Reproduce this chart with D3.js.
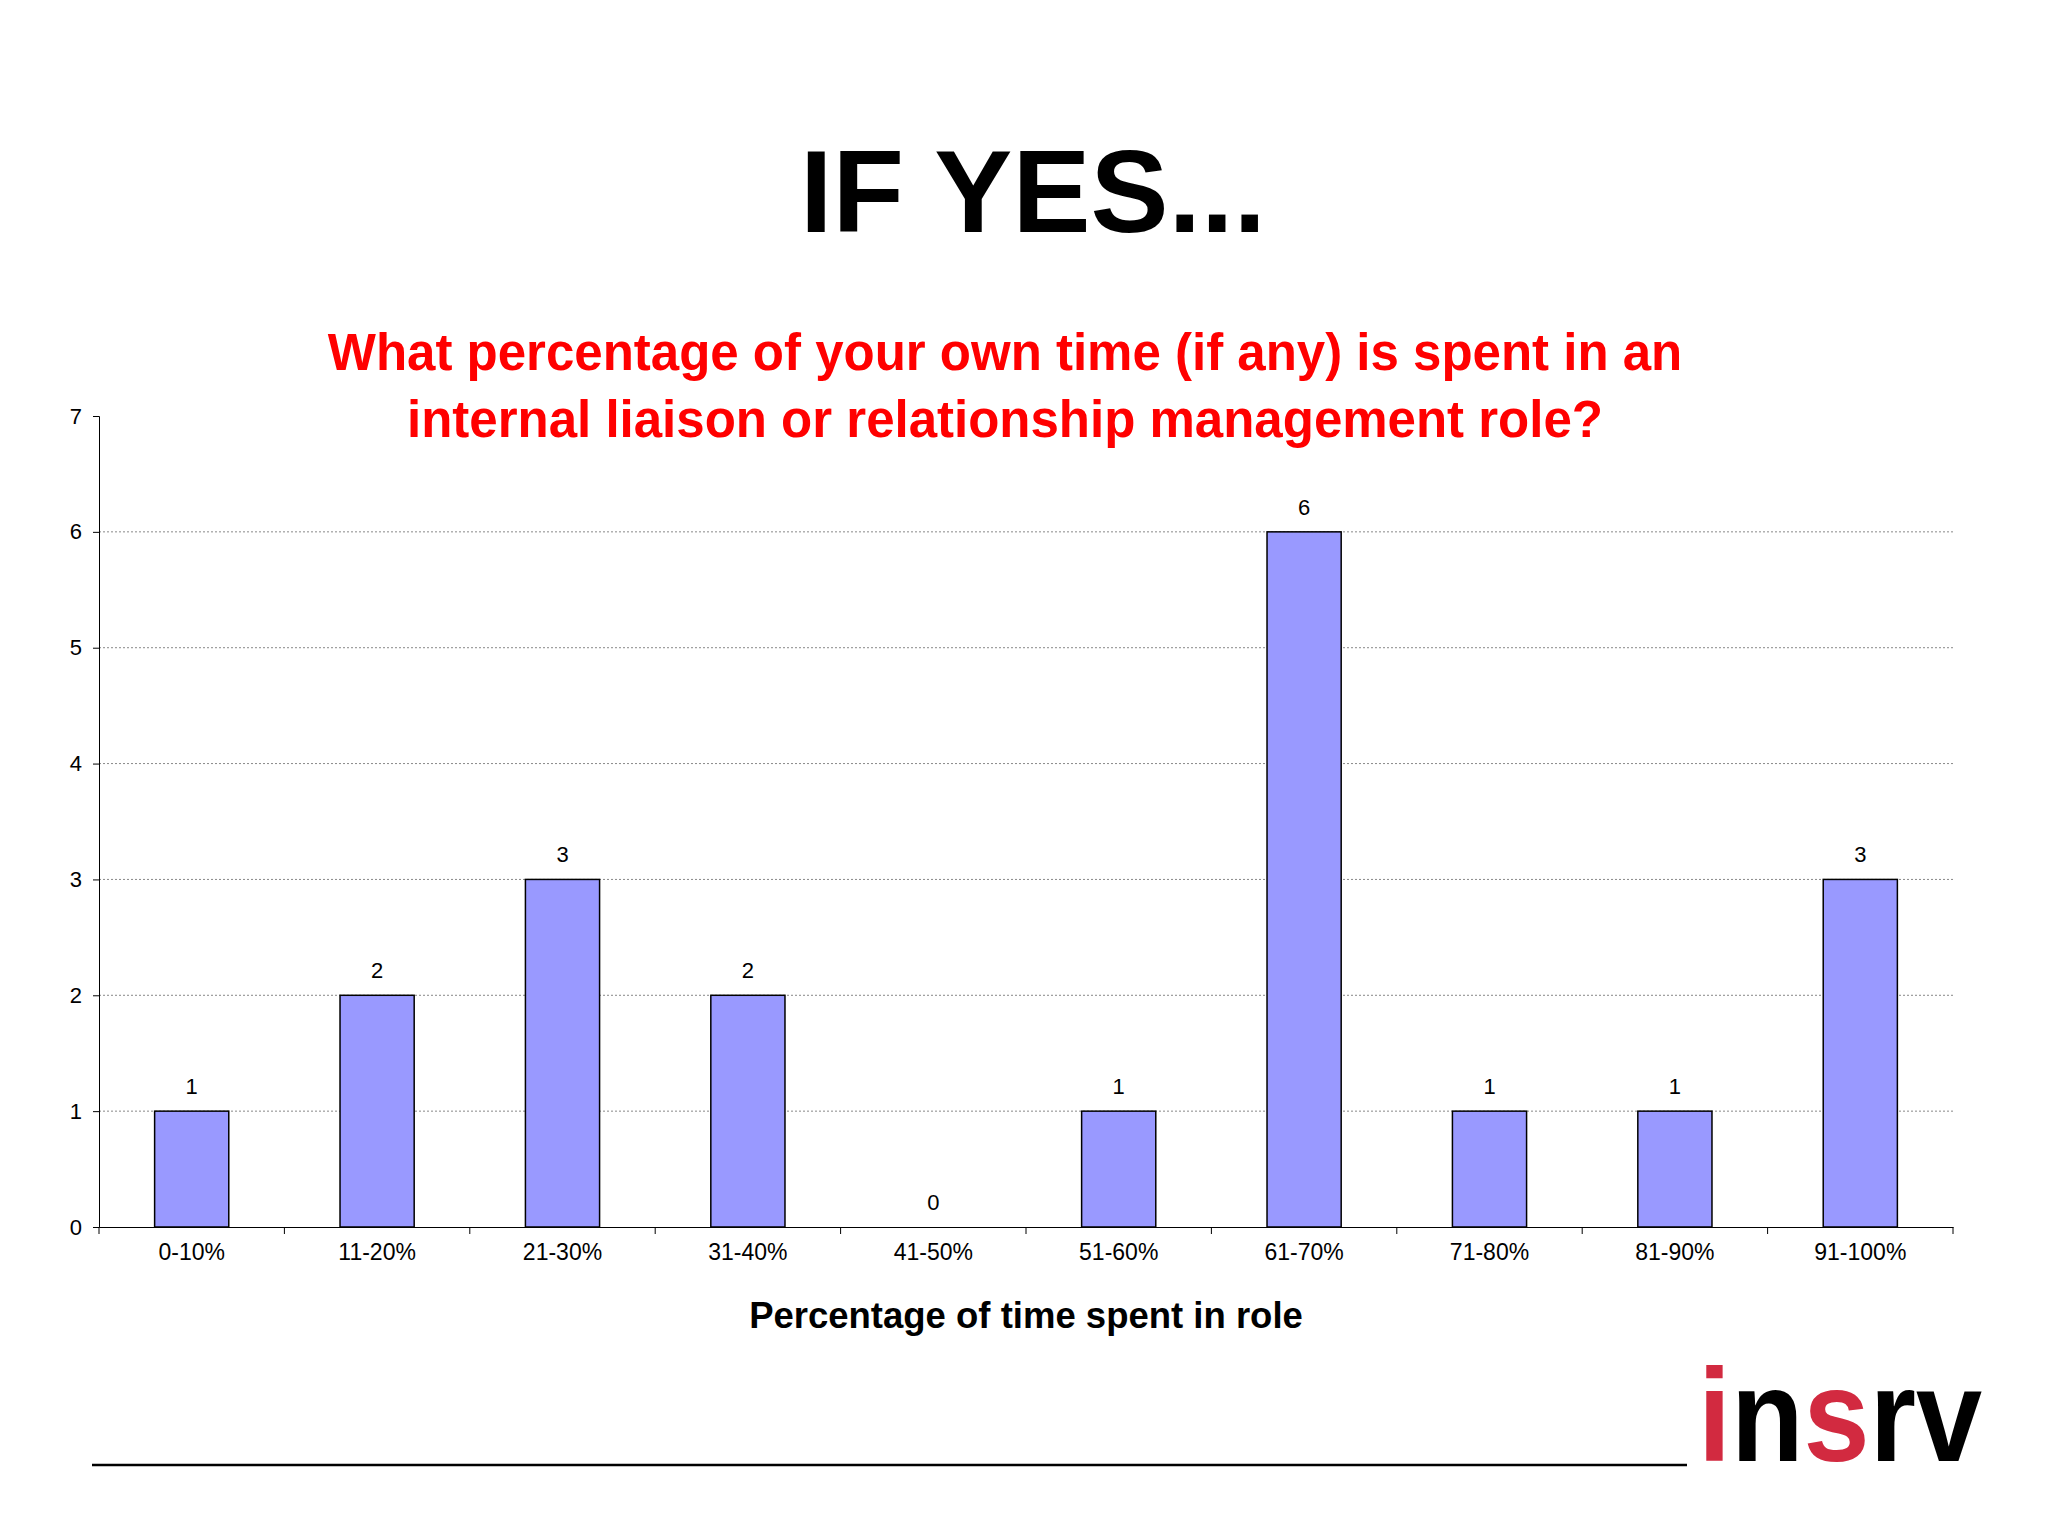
<!DOCTYPE html><html><head><meta charset="utf-8"><script src="https://cdn.jsdelivr.net/npm/d3@7"></script>
<style>body{margin:0;background:#fff}text{font-family:Arial,"Liberation Sans",sans-serif}</style></head><body>
<svg id="c" width="2048" height="1536"></svg>
<script>
const categories=["0-10%","11-20%","21-30%","31-40%","41-50%","51-60%","61-70%","71-80%","81-90%","91-100%"];
const values=[1,2,3,2,0,1,6,1,1,3];
const yTicks=[0,1,2,3,4,5,6,7];
const svg=d3.select("#c");
const L=99,R=1953,T=416,B=1227;
const x=d3.scaleBand().domain(categories).range([L,R]).paddingInner(0.6).paddingOuter(0.3);
const y=d3.scaleLinear().domain([0,7]).range([B,T]);
svg.append("text").attr("x",1033).attr("y",232).attr("text-anchor","middle").attr("font-size",117).attr("font-weight","bold").text("IF YES...");
[["What percentage of your own time (if any) is spent in an",370],["internal liaison or relationship management role?",437]].forEach(([t,yy])=>
 svg.append("text").attr("x",1005).attr("y",yy).attr("text-anchor","middle").attr("font-size",51).attr("font-weight","bold").attr("fill","#ff0000").text(t));
svg.append("g").selectAll("line").data(yTicks.filter(d=>d>0&&d<7)).join("line")
 .attr("x1",L).attr("x2",R).attr("y1",d=>y(d)).attr("y2",d=>y(d)).attr("stroke","#888").attr("stroke-dasharray","2,2");
svg.append("g").selectAll("rect").data(values).join("rect")
 .attr("x",(d,i)=>x(categories[i])).attr("y",d=>y(d)).attr("width",x.bandwidth()).attr("height",d=>B-y(d))
 .attr("fill","#9999ff").attr("stroke","#000").attr("stroke-width",1.5);
svg.append("g").selectAll("text").data(values).join("text")
 .attr("x",(d,i)=>x(categories[i])+x.bandwidth()/2).attr("y",d=>y(d)-17).attr("text-anchor","middle").attr("font-size",22).text(d=>d);
const ya=svg.append("g").attr("transform",`translate(${L},0)`).call(d3.axisLeft(y).tickValues(yTicks).tickSize(6).tickFormat(d3.format("d")));
ya.selectAll("text").attr("font-size",22).attr("dx",-8);
const xa=svg.append("g").attr("transform",`translate(0,${B})`).call(d3.axisBottom(x).tickSize(0));
xa.selectAll("text").attr("font-size",23).attr("dy",30);
svg.append("g").selectAll("line").data(d3.range(categories.length+1)).join("line")
 .attr("x1",i=>L+i*x.step()).attr("x2",i=>L+i*x.step()).attr("y1",B).attr("y2",B+7).attr("stroke","#000");
svg.selectAll(".domain").attr("stroke","#000");
svg.append("text").attr("x",1026).attr("y",1328).attr("text-anchor","middle").attr("font-size",36.5).attr("font-weight","bold").text("Percentage of time spent in role");
svg.append("line").attr("x1",92).attr("x2",1687).attr("y1",1465).attr("y2",1465).attr("stroke","#000").attr("stroke-width",2.5);
const lg=svg.append("text").attr("x",1698).attr("y",1461).attr("font-size",132).attr("font-weight","bold").attr("font-family","'Open Sans',sans-serif").attr("textLength",284).attr("lengthAdjust","spacingAndGlyphs");
[["i","#d22a40"],["n","#000"],["s","#d22a40"],["rv","#000"]].forEach(([t,c])=>lg.append("tspan").attr("fill",c).text(t));
</script></body></html>
